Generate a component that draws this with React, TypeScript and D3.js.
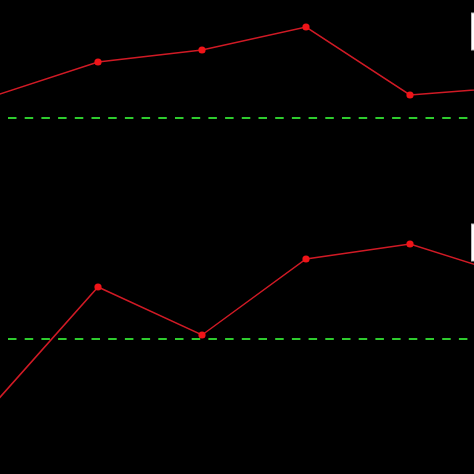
import React, { useEffect, useRef } from 'react';
import * as d3 from 'd3';

// x positions (sample index), both panels share them
const steps = [0, 1, 2, 3, 4, 5];
// top panel series and its threshold
const topValues = [6.1, 7.8, 8.4, 9.55, 6.15, 6.55];
const topThreshold = 5.0;
// bottom panel series and its threshold
const bottomValues = [1.75, 7.6, 5.2, 9.0, 9.75, 8.1];
const bottomThreshold = 5.0;

const W = 474;
const H = 474;

const App = () => {
    const ref = useRef<SVGSVGElement | null>(null);

    useEffect(() => {
        const svg = d3.select(ref.current);
        svg.selectAll("*").remove();

        svg.append("rect")
            .attr("width", W)
            .attr("height", H)
            .attr("fill", "#000");

        const x = d3.scaleLinear()
            .domain([0, 5])
            .range([-6, 514]);

        const panels = [
            { values: topValues, threshold: topThreshold, range: [218, 18], legendY: 13 },
            { values: bottomValues, threshold: bottomThreshold, range: [439, 239], legendY: 224 },
        ];

        panels.forEach((p) => {
            const y = d3.scaleLinear().domain([0, 10]).range(p.range);
            const g = svg.append("g");

            // threshold line
            g.append("line")
                .attr("x1", 8)
                .attr("x2", W)
                .attr("y1", y(p.threshold))
                .attr("y2", y(p.threshold))
                .attr("stroke", "#2ecc2e")
                .attr("stroke-width", 2)
                .attr("stroke-dasharray", "8.5,8.2");

            const pts = steps.map((s, i) => ({ s, v: p.values[i] }));

            const line = d3.line<{ s: number; v: number }>()
                .x(d => x(d.s))
                .y(d => y(d.v));

            g.append("path")
                .datum(pts)
                .attr("d", line)
                .attr("fill", "none")
                .attr("stroke", "#d01a25")
                .attr("stroke-width", 1.5);

            g.selectAll(".dot")
                .data(pts)
                .join("circle")
                .attr("class", "dot")
                .attr("cx", d => x(d.s))
                .attr("cy", d => y(d.v))
                .attr("r", 3.6)
                .attr("fill", "#f01418");

            // legend box, mostly off the right edge
            g.append("rect")
                .attr("x", 471.5)
                .attr("y", p.legendY)
                .attr("width", 30)
                .attr("height", 37)
                .attr("fill", "#fff")
                .attr("stroke", "#bbb")
                .attr("stroke-width", 1);
        });
    }, []);

    return <svg ref={ref} width={W} height={H}
        style={{ position: 'absolute', left: 0, top: 0, display: 'block' }} />;
};

export default App;
